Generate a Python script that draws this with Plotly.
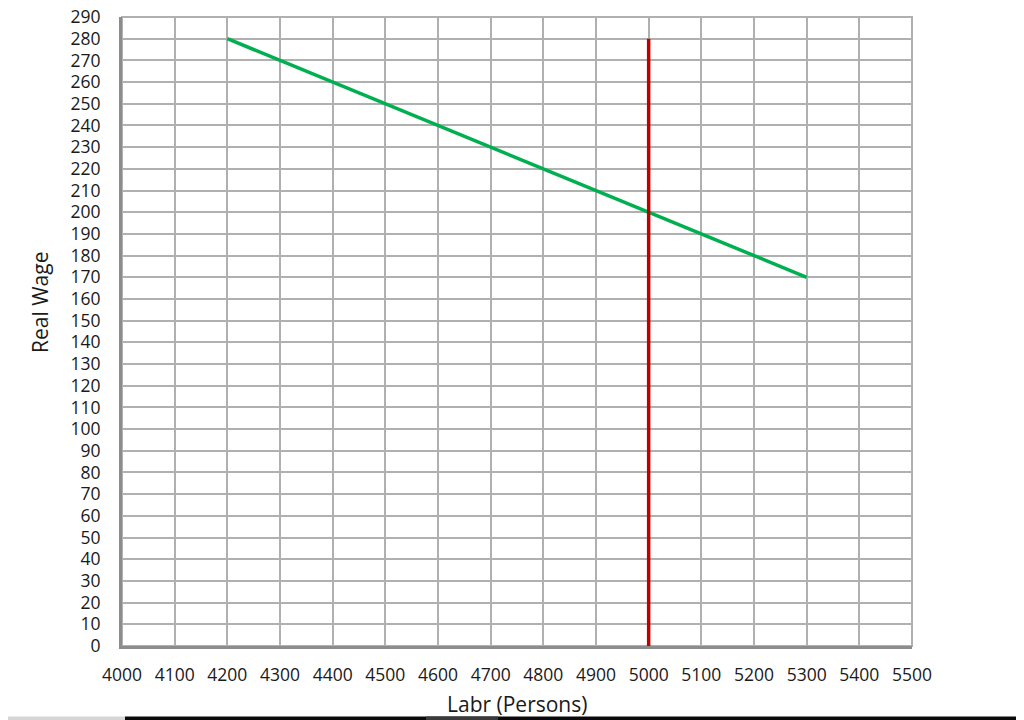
"""Labour demand chart: real wage vs labour."""

import plotly.graph_objects as go

# data
labour = [4200, 4300, 4400, 4500, 4600, 4700, 4800, 4900, 5000, 5100, 5200, 5300]
real_wage = [280, 270, 260, 250, 240, 230, 220, 210, 200, 190, 180, 170]
supply_x = [5000, 5000]
supply_y = [0, 280]

x_ticks = list(range(4000, 5501, 100))
y_ticks = list(range(0, 291, 10))

font_family = "Open Sans, Noto Sans, sans-serif"
green = "#00b050"
red = "#c00000"
grid = "#b0b0b0"

# the page puts the figure 8px in from the corner, so work in page pixels
offset = 8
left, right, top, bottom = 122, 912, 17, 646


def px_x(px):
    return (px - left) / (right - left)


def px_y(py):
    return (bottom - py) / (bottom - top)


def strip(x0, x1, y0, y1, color):
    return dict(type="rect", xref="paper", yref="paper",
                x0=px_x(x0), x1=px_x(x1), y0=px_y(y1), y1=px_y(y0),
                fillcolor=color, line_width=0, layer="above")


fig = go.Figure()
fig.add_trace(
    go.Scatter(
        x=labour,
        y=real_wage,
        mode="lines",
        line=dict(color=green, width=3.5),
        name="Labour demand",
    )
)
fig.add_trace(
    go.Scatter(
        x=supply_x,
        y=supply_y,
        mode="lines",
        line=dict(color=red, width=3.5),
        name="Labour supply",
    )
)

fig.update_layout(
    width=1024,
    height=720,
    margin=dict(
        l=left - offset,
        r=1024 - right + offset,
        t=top - offset,
        b=720 - bottom + offset,
    ),
    paper_bgcolor="white",
    plot_bgcolor="white",
    showlegend=False,
    font=dict(family=font_family, size=17.5, color="#1a1a1a"),
    shapes=[
        # top and right border of the plot area
        dict(type="rect", xref="paper", yref="paper", x0=0, x1=1, y0=0, y1=1,
             line=dict(color=grid, width=2), layer="below"),
        strip(0, 125, 716.5, 720, "#d6d6d6"),
        strip(125, 1024, 716.5, 720, "#0a0a0a"),
        strip(426, 498, 716.5, 720, "#3a3a3a"),
    ],
    annotations=[
        dict(text="Real Wage", xref="paper", yref="paper",
             x=px_x(40), y=px_y(303), xanchor="center", yanchor="middle",
             textangle=-90, showarrow=False,
             font=dict(size=21, family=font_family)),
        dict(text="Labr (Persons)", xref="paper", yref="paper",
             x=px_x(517), y=px_y(704), xanchor="center", yanchor="middle",
             showarrow=False, font=dict(size=21, family=font_family)),
    ],
)

fig.update_xaxes(
    range=[4000, 5500],
    tickvals=x_ticks,
    ticktext=[str(v) for v in x_ticks],
    showgrid=True,
    gridcolor=grid,
    gridwidth=1.5,
    zeroline=False,
    showline=True,
    linecolor="#8c8c8c",
    linewidth=3,
    ticks="",
    ticklabelstandoff=11,
    ticklabeloverflow="allow",
    automargin=False,
)
fig.update_yaxes(
    range=[0, 290],
    tickvals=y_ticks,
    ticktext=[str(v) for v in y_ticks],
    showgrid=True,
    gridcolor=grid,
    gridwidth=1.5,
    zeroline=False,
    showline=True,
    linecolor="#8c8c8c",
    linewidth=3,
    ticks="",
    ticklabelstandoff=15,
    ticklabeloverflow="allow",
    automargin=False,
)

fig.write_html("out.html")
